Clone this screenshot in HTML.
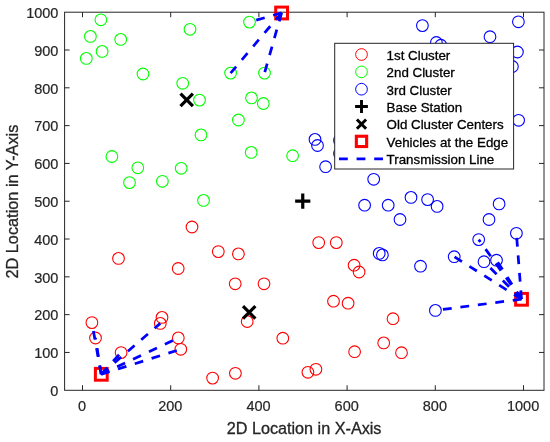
<!DOCTYPE html>
<html lang="en"><head><meta charset="utf-8"><title>Clusters</title>
<style>
html,body{margin:0;padding:0;background:#fff}
body{width:550px;height:442px;overflow:hidden}
svg{display:block}
text{font-family:"Liberation Sans",Arial,Helvetica,sans-serif;fill:#262626;stroke:#262626;stroke-width:0.3px}
.lg text{fill:#000;stroke:#000}
.tk text{stroke-width:0.2px}
</style></head><body>
<svg width="550" height="442" viewBox="0 0 550 442">
<rect width="550" height="442" fill="#fff"/>
<g stroke="#262626" stroke-width="1" fill="none">
<rect x="64.6" y="12.2" width="479.4" height="378.1"/>
<path d="M82.50 390.25v-5M82.50 12.2v5"/>
<path d="M170.70 390.25v-5M170.70 12.2v5"/>
<path d="M258.90 390.25v-5M258.90 12.2v5"/>
<path d="M347.10 390.25v-5M347.10 12.2v5"/>
<path d="M435.30 390.25v-5M435.30 12.2v5"/>
<path d="M523.50 390.25v-5M523.50 12.2v5"/>
<path d="M64.6 352.44h5M544.0 352.44h-5"/>
<path d="M64.6 314.64h5M544.0 314.64h-5"/>
<path d="M64.6 276.84h5M544.0 276.84h-5"/>
<path d="M64.6 239.03h5M544.0 239.03h-5"/>
<path d="M64.6 201.22h5M544.0 201.22h-5"/>
<path d="M64.6 163.42h5M544.0 163.42h-5"/>
<path d="M64.6 125.62h5M544.0 125.62h-5"/>
<path d="M64.6 87.81h5M544.0 87.81h-5"/>
<path d="M64.6 50.00h5M544.0 50.00h-5"/>
</g>
<g class="tk" font-size="14.5" text-anchor="middle">
<text x="82.10" y="411.2">0</text>
<text x="170.30" y="411.2">200</text>
<text x="258.50" y="411.2">400</text>
<text x="346.70" y="411.2">600</text>
<text x="434.90" y="411.2">800</text>
<text x="523.10" y="411.2">1000</text>
</g>
<g class="tk" font-size="14.5" text-anchor="end">
<text x="58.4" y="395.95">0</text>
<text x="58.4" y="358.14">100</text>
<text x="58.4" y="320.34">200</text>
<text x="58.4" y="282.54">300</text>
<text x="58.4" y="244.73">400</text>
<text x="58.4" y="206.92">500</text>
<text x="58.4" y="169.12">600</text>
<text x="58.4" y="131.31">700</text>
<text x="58.4" y="93.51">800</text>
<text x="58.4" y="55.70">900</text>
<text x="58.4" y="17.90">1000</text>
</g>
<text x="304.1" y="434.2" font-size="16.200000000000003" text-anchor="middle">2D Location in X-Axis</text>
<text transform="translate(17.5 201.6) rotate(-90)" font-size="16.3" text-anchor="middle">2D Location in Y-Axis</text>
<g>
<g fill="none" stroke="#ff0000" stroke-width="1.1">
<circle cx="192.0" cy="227.0" r="5.85"/>
<circle cx="118.5" cy="258.4" r="5.85"/>
<circle cx="178.2" cy="268.5" r="5.85"/>
<circle cx="91.9" cy="322.6" r="5.85"/>
<circle cx="95.5" cy="338.0" r="5.85"/>
<circle cx="121.1" cy="352.6" r="5.85"/>
<circle cx="162.0" cy="317.4" r="5.85"/>
<circle cx="160.3" cy="323.4" r="5.85"/>
<circle cx="178.3" cy="337.9" r="5.85"/>
<circle cx="180.8" cy="349.3" r="5.85"/>
<circle cx="218.3" cy="251.6" r="5.85"/>
<circle cx="238.4" cy="253.9" r="5.85"/>
<circle cx="318.7" cy="242.6" r="5.85"/>
<circle cx="235.2" cy="283.8" r="5.85"/>
<circle cx="264.0" cy="283.8" r="5.85"/>
<circle cx="247.2" cy="321.5" r="5.85"/>
<circle cx="282.8" cy="338.2" r="5.85"/>
<circle cx="212.6" cy="378.1" r="5.85"/>
<circle cx="235.4" cy="373.3" r="5.85"/>
<circle cx="307.9" cy="372.3" r="5.85"/>
<circle cx="315.9" cy="369.3" r="5.85"/>
<circle cx="336.3" cy="242.6" r="5.85"/>
<circle cx="354.1" cy="265.2" r="5.85"/>
<circle cx="359.1" cy="272.0" r="5.85"/>
<circle cx="333.5" cy="301.2" r="5.85"/>
<circle cx="348.1" cy="303.2" r="5.85"/>
<circle cx="393.0" cy="318.7" r="5.85"/>
<circle cx="383.7" cy="342.9" r="5.85"/>
<circle cx="354.6" cy="351.7" r="5.85"/>
<circle cx="401.5" cy="352.7" r="5.85"/>
</g>
<g fill="none" stroke="#00ff00" stroke-width="1.1">
<circle cx="100.9" cy="19.8" r="5.85"/>
<circle cx="90.4" cy="36.4" r="5.85"/>
<circle cx="120.7" cy="39.4" r="5.85"/>
<circle cx="102.1" cy="51.4" r="5.85"/>
<circle cx="86.3" cy="58.4" r="5.85"/>
<circle cx="143.0" cy="74.0" r="5.85"/>
<circle cx="190.0" cy="29.3" r="5.85"/>
<circle cx="182.7" cy="83.3" r="5.85"/>
<circle cx="199.5" cy="100.1" r="5.85"/>
<circle cx="249.5" cy="22.1" r="5.85"/>
<circle cx="230.6" cy="73.1" r="5.85"/>
<circle cx="264.5" cy="73.1" r="5.85"/>
<circle cx="251.5" cy="97.9" r="5.85"/>
<circle cx="263.3" cy="103.5" r="5.85"/>
<circle cx="111.9" cy="156.5" r="5.85"/>
<circle cx="137.8" cy="167.8" r="5.85"/>
<circle cx="129.5" cy="182.6" r="5.85"/>
<circle cx="162.4" cy="181.3" r="5.85"/>
<circle cx="181.2" cy="168.3" r="5.85"/>
<circle cx="238.4" cy="120.0" r="5.85"/>
<circle cx="201.0" cy="134.9" r="5.85"/>
<circle cx="251.2" cy="152.4" r="5.85"/>
<circle cx="292.6" cy="155.7" r="5.85"/>
<circle cx="203.5" cy="200.4" r="5.85"/>
</g>
<g fill="none" stroke="#0000ff" stroke-width="1.1">
<circle cx="422.4" cy="25.6" r="5.85"/>
<circle cx="436.4" cy="42.5" r="5.85"/>
<circle cx="440.9" cy="45.2" r="5.85"/>
<circle cx="490.0" cy="36.7" r="5.85"/>
<circle cx="518.4" cy="21.8" r="5.85"/>
<circle cx="517.4" cy="52.0" r="5.85"/>
<circle cx="512.4" cy="66.5" r="5.85"/>
<circle cx="518.6" cy="120.3" r="5.85"/>
<circle cx="315.0" cy="139.4" r="5.85"/>
<circle cx="317.5" cy="145.5" r="5.85"/>
<circle cx="325.6" cy="166.7" r="5.85"/>
<circle cx="339.5" cy="140.4" r="5.85"/>
<circle cx="339.5" cy="153.5" r="5.85"/>
<circle cx="373.7" cy="179.3" r="5.85"/>
<circle cx="364.6" cy="205.2" r="5.85"/>
<circle cx="388.2" cy="205.2" r="5.85"/>
<circle cx="411.0" cy="197.4" r="5.85"/>
<circle cx="427.6" cy="199.6" r="5.85"/>
<circle cx="437.1" cy="206.4" r="5.85"/>
<circle cx="400.0" cy="219.5" r="5.85"/>
<circle cx="499.1" cy="203.9" r="5.85"/>
<circle cx="489.0" cy="219.5" r="5.85"/>
<circle cx="379.2" cy="253.4" r="5.85"/>
<circle cx="382.4" cy="254.9" r="5.85"/>
<circle cx="420.5" cy="266.2" r="5.85"/>
<circle cx="454.2" cy="256.7" r="5.85"/>
<circle cx="435.4" cy="310.4" r="5.85"/>
<circle cx="478.7" cy="239.6" r="5.85"/>
<circle cx="484.0" cy="261.7" r="5.85"/>
<circle cx="496.5" cy="260.2" r="5.85"/>
<circle cx="516.4" cy="233.3" r="5.85"/>
</g>
<path d="M295.15 201.2h15.2M302.75 193.60v15.2" stroke="#000" stroke-width="3.2" fill="none"/>
<path d="M180.50 93.70l12.4 12.4M180.50 106.10l12.4 -12.4" stroke="#000" stroke-width="3.2" fill="none"/>
<path d="M243.00 306.20l12.4 12.4M243.00 318.60l12.4 -12.4" stroke="#000" stroke-width="3.2" fill="none"/>
<rect x="275.70" y="7.10" width="11.8" height="11.8" stroke="#ff0000" stroke-width="3.0" fill="none"/>
<rect x="515.60" y="293.40" width="11.8" height="11.8" stroke="#ff0000" stroke-width="3.0" fill="none"/>
<rect x="95.40" y="368.40" width="11.8" height="11.8" stroke="#ff0000" stroke-width="3.0" fill="none"/>
<g stroke="#0000ff" stroke-width="2.75" stroke-dasharray="8.8 8.8" fill="none">
<path d="M281.6 12.8L249.5 22.1"/>
<path d="M281.6 12.8L230.6 73.1"/>
<path d="M281.6 12.8L264.5 73.1"/>
<path d="M521.5 299.2L435.4 310.4"/>
<path d="M521.5 299.2L454.2 256.7"/>
<path d="M521.5 299.2L478.7 239.6"/>
<path d="M521.5 299.2L484.3 262.0"/>
<path d="M521.5 299.2L496.5 260.2"/>
<path d="M521.5 299.2L516.4 233.3"/>
<path d="M101.2 374.2L91.9 322.6"/>
<path d="M101.2 374.2L95.5 338.0"/>
<path d="M101.2 374.2L121.1 352.6"/>
<path d="M101.2 374.2L160.3 323.4"/>
<path d="M101.2 374.2L178.3 337.9"/>
<path d="M101.2 374.2L180.8 349.3"/>
</g>
</g>
<rect x="334.7" y="43.3" width="178.9" height="125.7" fill="#fff" stroke="#262626" stroke-width="1"/>
<circle cx="361.5" cy="54.5" r="5.85" fill="none" stroke="#ff0000" stroke-width="1"/>
<circle cx="361.5" cy="71.9" r="5.85" fill="none" stroke="#00ff00" stroke-width="1"/>
<circle cx="361.5" cy="89.2" r="5.85" fill="none" stroke="#0000ff" stroke-width="1"/>
<path d="M355.10 106.5h12.8M361.5 100.10v12.8" stroke="#000" stroke-width="2.9" fill="none"/>
<path d="M356.90 119.50l9.2 9.2M356.90 128.70l9.2 -9.2" stroke="#000" stroke-width="3.0" fill="none"/>
<rect x="356.35" y="136.25" width="10.3" height="10.3" stroke="#ff0000" stroke-width="3.1" fill="none"/>
<path d="M339 158.9H383.5" stroke="#0000ff" stroke-width="2.75" stroke-dasharray="8.8 8.8" fill="none"/>
<g class="lg" font-size="13.33">
<text x="386.6" y="59.80">1st Cluster</text>
<text x="386.6" y="77.20">2nd Cluster</text>
<text x="386.6" y="94.50">3rd Cluster</text>
<text x="386.6" y="111.80">Base Station</text>
<text x="386.6" y="129.40">Old Cluster Centers</text>
<text x="386.6" y="146.70">Vehicles at the Edge</text>
<text x="386.6" y="163.90">Transmission Line</text>
</g>
</svg>
</body></html>
